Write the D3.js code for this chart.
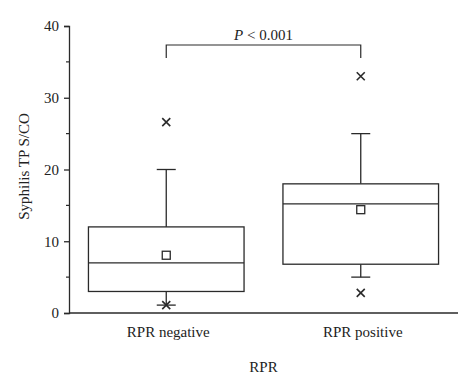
<!DOCTYPE html>
<html>
<head>
<meta charset="utf-8">
<script src="https://cdn.jsdelivr.net/npm/d3@7"></script>
<style>
  body { margin: 0; background: #fff; }
  text { font-family: "Liberation Serif", "DejaVu Serif", serif; fill: #222; }
</style>
</head>
<body>
<svg id="chart" width="474" height="392"></svg>
<script>
"use strict";

// Box summary per RPR group
const categories = ["RPR negative", "RPR positive"];
const q1Values = [3.0, 6.8];
const medianValues = [7.0, 15.2];
const q3Values = [12.0, 18.0];
const whiskerLow = [1.1, 5.0];
const whiskerHigh = [20.0, 25.0];
const meanValues = [8.05, 14.4];
const outlierValues = [[26.6, 1.1], [33.0, 2.8]];
const yTicks = [0, 10, 20, 30, 40];
const yMinorTicks = [5, 15, 25, 35];

const width = 474;
const height = 392;
const margin = { left: 69, right: 16, top: 26, bottom: 79 };
const ink = "#2a2a2a";

const svg = d3.select("#chart");

const x = d3.scaleBand()
    .domain(categories)
    .range([margin.left, width - margin.right])
    .paddingInner(0.2)
    .paddingOuter(0.1);

const y = d3.scaleLinear()
    .domain([0, 40])
    .range([height - margin.bottom, margin.top]);

const boxW = x.bandwidth();
const capW = 19;

// y axis
const yAxis = svg.append("g")
    .attr("transform", `translate(${margin.left},0)`)
    .call(d3.axisLeft(y).tickValues(yTicks).tickSize(5).tickPadding(5).tickFormat(d3.format("d")));
yAxis.select(".domain").attr("stroke", ink).attr("stroke-width", 1.3);
yAxis.selectAll(".tick line").attr("stroke", ink).attr("stroke-width", 1.3);
yAxis.selectAll(".tick text")
    .style("font-family", "'Liberation Serif', serif")
    .style("font-size", "15px")
    .attr("fill", "#222");

svg.append("g").selectAll("line")
    .data(yMinorTicks)
    .enter().append("line")
    .attr("x1", margin.left - 3).attr("x2", margin.left)
    .attr("y1", d => y(d)).attr("y2", d => y(d))
    .attr("stroke", ink).attr("stroke-width", 1.2);

// x axis line
svg.append("line")
    .attr("x1", margin.left).attr("x2", width - margin.right)
    .attr("y1", y(0)).attr("y2", y(0))
    .attr("stroke", ink).attr("stroke-width", 1.3);

svg.append("g").selectAll("text")
    .data(categories)
    .enter().append("text")
    .attr("x", d => x(d) + boxW / 2 + 2)
    .attr("y", y(0) + 24)
    .attr("text-anchor", "middle")
    .style("font-size", "15px")
    .text(d => d);

// axis titles
svg.append("text")
    .attr("x", (margin.left + width - margin.right) / 2)
    .attr("y", 372)
    .attr("text-anchor", "middle")
    .style("font-size", "15px")
    .text("RPR");

svg.append("text")
    .attr("transform", `translate(29,${y(20) - 3}) rotate(-90)`)
    .attr("text-anchor", "middle")
    .style("font-size", "15px")
    .text("Syphilis TP S/CO");

// boxes
const boxes = svg.append("g")
    .attr("fill", "none")
    .attr("stroke", ink)
    .attr("stroke-width", 1.3);

categories.forEach((c, i) => {
    const x0 = x(c);
    const cx = x0 + boxW / 2;

    // whiskers
    boxes.append("line")
        .attr("x1", cx).attr("x2", cx)
        .attr("y1", y(q3Values[i])).attr("y2", y(whiskerHigh[i]));
    boxes.append("line")
        .attr("x1", cx).attr("x2", cx)
        .attr("y1", y(q1Values[i])).attr("y2", y(whiskerLow[i]));
    boxes.append("line")
        .attr("x1", cx - capW / 2).attr("x2", cx + capW / 2)
        .attr("y1", y(whiskerHigh[i])).attr("y2", y(whiskerHigh[i]));
    boxes.append("line")
        .attr("x1", cx - capW / 2).attr("x2", cx + capW / 2)
        .attr("y1", y(whiskerLow[i])).attr("y2", y(whiskerLow[i]));

    // box and median
    boxes.append("rect")
        .attr("x", x0).attr("width", boxW)
        .attr("y", y(q3Values[i]))
        .attr("height", y(q1Values[i]) - y(q3Values[i]))
        .attr("fill", "#fff");
    boxes.append("line")
        .attr("x1", x0).attr("x2", x0 + boxW)
        .attr("y1", y(medianValues[i])).attr("y2", y(medianValues[i]));

    // mean
    boxes.append("rect")
        .attr("x", cx - 4).attr("y", y(meanValues[i]) - 4)
        .attr("width", 8).attr("height", 8);

    // outliers as crosses
    outlierValues[i].forEach(v => {
        const oy = y(v);
        boxes.append("path")
            .attr("d", `M${cx - 4},${oy - 4}L${cx + 4},${oy + 4}M${cx - 4},${oy + 4}L${cx + 4},${oy - 4}`)
            .attr("stroke-width", 1.6);
    });
});

// significance bracket
const bx1 = x(categories[0]) + boxW / 2;
const bx2 = x(categories[1]) + boxW / 2;
const by = 45;
svg.append("path")
    .attr("d", `M${bx1},${by + 13}V${by}H${bx2}V${by + 13}`)
    .attr("fill", "none")
    .attr("stroke", ink)
    .attr("stroke-width", 1.2);

const pText = svg.append("text")
    .attr("x", (bx1 + bx2) / 2)
    .attr("y", by - 5)
    .attr("text-anchor", "middle")
    .style("font-size", "15px");
pText.append("tspan").style("font-style", "italic").text("P");
pText.append("tspan").text(" < 0.001");
</script>
</body>
</html>
